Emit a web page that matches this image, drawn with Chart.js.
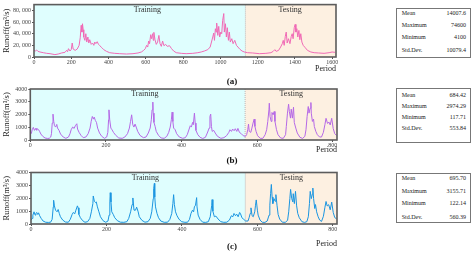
<!DOCTYPE html>
<html><head><meta charset="utf-8">
<script src="https://cdn.jsdelivr.net/npm/chart.js@4/dist/chart.umd.min.js"></script>
<style>
html,body{margin:0;padding:0;background:#fff;width:474px;height:255px;overflow:hidden;font-family:'Liberation Serif','Times New Roman',serif;}
canvas{position:absolute;left:0;}
.stat{position:absolute;left:396px;width:74.5px;border:1px solid #777;box-sizing:border-box;background:#fff;font-size:6px;color:#222;}
.row{position:absolute;left:4.7px;right:3.5px;height:8px;line-height:8px;display:flex;justify-content:space-between;white-space:nowrap;}
.lab{position:absolute;font-weight:bold;font-size:9px;color:#111;transform:translate(-50%,-50%);}
</style></head><body>
<canvas id="ca" width="350" height="75" style="top:0px"></canvas>
<canvas id="cb" width="350" height="75" style="top:80px"></canvas>
<canvas id="cc" width="350" height="90" style="top:165px"></canvas>
<div class="lab" style="left:232px;top:81px">(a)</div>
<div class="lab" style="left:232px;top:160px">(b)</div>
<div class="lab" style="left:232px;top:246px">(c)</div>
<div id="stats"></div>
<script>
// ---------- data ----------
const statLabels = ['Mean', 'Maximum', 'Minimum', 'Std.Dev.'];
const statsA = ['14007.6', '74600', '4100', '10079.4'];
const statsB = ['684.42', '2974.29', '117.71', '553.84'];
const statsC = ['695.70', '3155.71', '122.14', '560.39'];

const xTicksA = [0, 200, 400, 600, 800, 1000, 1200, 1400, 1600];
const yTicksA = [0, 20000, 40000, 60000, 80000];
const xTicksBC = [0, 200, 400, 600, 800];
const yTicksBC = [0, 1000, 2000, 3000, 4000];

const periodA = [
0,7,14,21,32,50,68,86,112,130,
148,166,175,180,185,193,200,205,210,221,
232,242,248,253,257,260,264,267,273,278,
283,289,294,299,307,314,321,326,332,339,
346,353,364,374,389,406,433,460,496,531,
558,576,588,597,604,610,615,620,626,631,
636,640,643,649,656,663,670,676,683,690,
697,706,715,727,738,749,763,790,816,852,
879,897,914,932,945,952,959,964,968,973,
977,980,986,991,996,1002,1007,1012,1018,1021,
1027,1032,1037,1043,1048,1053,1061,1068,1077,1086,
1094,1105,1116,1128,1146,1173,1209,1244,1271,1283,
1292,1299,1312,1323,1332,1337,1342,1348,1353,1358,
1365,1373,1380,1385,1390,1396,1401,1405,1410,1415,
1421,1426,1431,1437,1444,1455,1467,1485,1503,1526,
1556,1583,1599,1615];
const runoffA = [
11400,10300,12000,9700,8600,7400,6300,5700,4100,5100,
6900,8000,11400,9100,14300,10300,13100,24000,13700,11400,
13700,20000,33100,54300,42800,57100,46800,34300,28600,40000,
25700,34300,24000,29700,21700,24000,20000,25700,22900,26300,
21700,19400,16000,12600,9700,7400,6300,5700,5100,5700,
6900,8600,11400,14300,20000,17100,27400,22900,38300,31400,
40000,28600,42300,29700,21700,25700,37100,22900,18300,27400,
19400,21700,18300,19400,14300,10300,7400,6300,5700,6300,
7400,8600,10300,12600,17100,25700,34300,41100,28600,48600,
42800,58300,37100,52600,34300,42800,40000,62900,74600,42800,
57100,34300,50300,28600,42800,25700,31400,22900,28600,20000,
17100,13100,10300,8600,7400,6900,5700,6300,7400,9700,
12600,9700,11400,17100,22900,28600,20000,35400,42800,24000,
31400,22900,35400,40000,31400,50300,56000,42800,48600,34300,
45700,29700,40000,25700,20000,16000,11400,8600,7400,6900,
6300,7400,8600,8000];

const periodB = [
0,3,5,8,11,13,15,17,19,22,
25,28,33,39,45,50,54,56,58,60,
62,64,67,70,72,76,80,87,94,101,
105,108,112,116,119,123,125,129,134,140,
147,153,158,161,164,167,169,172,175,178,
183,189,196,202,205,207,208,210,213,216,
220,226,234,243,250,257,262,265,268,271,
274,277,280,284,290,299,306,312,317,320,
322,324,325,327,330,333,339,346,354,361,
366,370,373,375,377,379,383,387,394,403,
410,415,420,423,426,429,431,434,436,438,
443,449,456,463,468,473,475,477,479,481,
485,489,495,504,512,519,525,528,532,535,
539,542,546,549,553,558,563,569,572,575,
577,579,583,586,589,592,594,597,601,608,
615,621,625,628,631,632,634,637,639,642,
645,647,651,655,662,669,675,677,680,683,
685,688,690,693,696,698,702,706,713,720,
726,729,732,735,737,740,742,743,746,749,
751,755,759,765,770,775,779,782,786,790,
793,797,801,805,810];
const runoffB = [
416,546,806,988,754,858,936,754,884,806,
650,468,286,156,125,130,234,494,1326,2028,
1456,1118,1014,1222,936,754,468,234,130,234,
494,806,1014,910,1118,1274,858,598,364,182,
234,494,936,1456,1846,1638,1794,1534,1378,936,
546,286,130,234,598,1586,2366,1586,936,806,
598,364,156,130,234,494,936,1456,1976,1196,
1014,1248,1014,676,364,182,234,546,936,1586,
2366,2974,2106,1378,1066,676,364,156,130,286,
598,1014,1586,2184,1456,936,806,494,234,130,
182,416,858,1118,1014,1378,1196,2106,1326,754,
416,208,118,208,546,936,1846,2028,1066,676,
754,546,286,130,182,338,598,806,676,858,
728,884,676,910,598,494,338,286,416,806,
1248,676,598,936,1326,1638,1066,676,338,130,
130,416,806,1456,2366,2886,1846,1456,2158,1976,
2236,1456,806,416,156,130,416,1066,2106,2808,
2236,1716,2418,1716,2574,1378,936,546,208,125,
286,806,1846,2626,2106,2496,2938,2106,1456,1638,
1066,676,416,234,234,600,1200,1700,1300,1400,
1180,1700,900,500,350];

const periodC = [
0,3,5,8,11,13,15,18,20,23,
27,32,39,46,52,56,59,60,62,65,
69,72,75,78,84,91,99,104,109,112,
116,119,123,125,127,131,137,143,150,156,
160,164,165,168,171,173,176,180,184,191,
198,204,207,209,210,212,214,218,222,229,
237,246,254,259,264,268,270,273,277,280,
284,287,294,302,310,316,320,324,325,327,
328,330,334,338,344,353,362,368,373,376,
378,380,383,387,392,399,408,415,420,424,
428,431,433,436,439,440,443,448,455,463,
470,475,479,480,482,486,490,496,503,511,
519,526,531,535,538,542,545,549,553,555,
559,564,569,575,578,581,583,586,589,593,
595,597,600,602,607,613,620,626,631,633,
635,637,639,641,644,647,649,652,655,659,
666,674,680,683,686,688,691,694,695,698,
701,704,707,711,718,725,731,735,738,740,
743,746,747,749,752,754,757,761,765,770,
775,779,782,785,789,793,797,801,805,810];
const runoffC = [
307,435,691,947,691,819,896,742,870,640,
435,230,135,122,140,358,1331,1843,1408,1075,
947,1126,819,563,307,154,135,358,742,896,
794,1075,1408,1254,742,486,256,135,179,435,
947,1587,2176,1766,1664,1715,1331,947,563,256,
135,230,691,1715,2432,1715,947,742,486,256,
140,130,179,435,947,1510,2022,1075,1075,1306,
947,563,282,140,179,435,947,1971,2739,3156,
2099,1331,819,486,230,130,140,358,819,1587,
2278,1510,947,640,384,179,130,140,358,819,
1075,947,1331,1459,2048,1331,691,358,140,125,
179,563,1459,1894,998,563,614,384,179,130,
140,307,640,563,819,640,768,563,896,819,
486,358,230,230,486,819,1254,640,563,947,
1459,1869,1075,691,307,135,125,230,691,1459,
2355,3072,2099,1587,1971,1766,2278,1459,742,384,
140,130,282,947,1971,2688,1971,1715,2355,1587,
2534,1408,819,486,179,125,179,563,1587,2534,
1971,2355,2790,1971,1203,1510,947,563,307,200,
600,1300,1750,1400,1500,1100,1700,900,500,400];

const splitA = 1134, splitBC = 568;

// ---------- drawing ----------
const FONT = "'Liberation Serif','Times New Roman',serif";
function fmtThousands(v) {
  if (v === 0) return '0';
  return Math.floor(v / 1000) + ', ' + String(v % 1000).padStart(3, '0');
}

const panelPlugin = {
  id: 'panel',
  beforeDraw(chart, args, o) {
    const {ctx, chartArea: a, scales: {x}} = chart;
    const sx = x.getPixelForValue(o.split);
    ctx.save();
    ctx.fillStyle = '#DFFEFE';
    ctx.fillRect(a.left, a.top, sx - a.left, a.bottom - a.top);
    ctx.fillStyle = '#FDF0E1';
    ctx.fillRect(sx, a.top, a.right - sx, a.bottom - a.top);
    ctx.strokeStyle = '#b8b8b8'; ctx.lineWidth = 1; ctx.setLineDash([1, 1]);
    ctx.beginPath(); ctx.moveTo(sx, a.top); ctx.lineTo(sx, a.bottom); ctx.stroke();
    ctx.restore();
  },
  afterDraw(chart, args, o) {
    const {ctx, chartArea: a, scales: {x}} = chart;
    ctx.save();
    ctx.strokeStyle = '#5c5c5c'; ctx.lineWidth = 1.6;
    ctx.strokeRect(a.left, a.top, a.right - a.left, a.bottom - a.top);
    ctx.fillStyle = '#333'; ctx.font = '8px ' + FONT;
    ctx.textAlign = 'center'; ctx.textBaseline = 'middle';
    ctx.fillText('Training', x.getPixelForValue(o.trainAt), a.top + o.labelDy);
    ctx.fillText('Testing', x.getPixelForValue(o.testAt), a.top + o.labelDy);
    ctx.restore();
  }
};

function makeChart(id, xs, ys, c) {
  const gridOpt = {drawOnChartArea: false, drawTicks: true, tickLength: 2, color: '#555'};
  new Chart(document.getElementById(id), {
    type: 'line',
    data: {datasets: [{
      data: xs.map((v, i) => ({x: v, y: ys[i]})),
      borderColor: c.color, borderWidth: 1, pointRadius: 0, tension: 0, fill: false
    }]},
    options: {
      responsive: false, animation: false, devicePixelRatio: 1,
      layout: {padding: {top: c.padTop, right: c.padRight, left: 0, bottom: 0}},
      plugins: {
        legend: {display: false}, tooltip: {enabled: false},
        panel: {split: c.split, trainAt: c.trainAt, testAt: c.testAt, labelDy: c.labelDy}
      },
      scales: {
        x: {
          type: 'linear', min: 0, max: c.xMax,
          afterBuildTicks: s => { s.ticks = c.xTicks.map(v => ({value: v})); },
          afterFit: s => { s.height = c.xH; },
          ticks: {autoSkip: false, maxRotation: 0, padding: 0, color: '#444',
                  font: {family: FONT, size: 6}, callback: v => String(v)},
          grid: gridOpt, border: {display: false},
          title: {display: true, text: 'Period', align: 'end', color: '#222',
                  font: {family: FONT, size: 8}, padding: {top: 0, bottom: c.periodPad}}
        },
        y: {
          min: 0, max: c.yMax,
          afterBuildTicks: s => { s.ticks = c.yTicks.map(v => ({value: v})); },
          afterFit: s => { s.width = c.yW; },
          ticks: {padding: 1, color: '#444', font: {family: FONT, size: 6}, callback: c.yFmt},
          grid: gridOpt, border: {display: false},
          title: {display: true, text: 'Runoff(m³/s)', color: '#222',
                  font: {family: FONT, size: 8.5}, padding: {top: 2, bottom: 0}}
        }
      }
    },
    plugins: [panelPlugin]
  });
}

makeChart('ca', periodA, runoffA, {
  color: '#F06AB5', xMax: 1620, yMax: 90000, xTicks: xTicksA, yTicks: yTicksA,
  yFmt: v => fmtThousands(v), split: splitA, trainAt: 608, testAt: 1374, labelDy: 5.5,
  padTop: 4.5, padRight: 14, yW: 34, xH: 18, periodPad: 1.2
});
makeChart('cb', periodB, runoffB, {
  color: '#B569E6', xMax: 811, yMax: 4000, xTicks: xTicksBC, yTicks: yTicksBC,
  yFmt: v => String(v), split: splitBC, trainAt: 303, testAt: 690, labelDy: 5.3,
  padTop: 9, padRight: 13, yW: 30.3, xH: 15, periodPad: 0
});
makeChart('cc', periodC, runoffC, {
  color: '#1B95E0', xMax: 811, yMax: 4000, xTicks: xTicksBC, yTicks: yTicksBC,
  yFmt: v => String(v), split: splitBC, trainAt: 303, testAt: 690, labelDy: 5.2,
  padTop: 7.5, padRight: 13, yW: 31, xH: 31, periodPad: 6
});

// ---------- stats boxes ----------
const boxes = [
  {vals: statsA, top: 8, h: 50, rows: [4.7, 17, 29.3, 42]},
  {vals: statsB, top: 88, h: 55, rows: [6.7, 17.7, 28.7, 39.7]},
  {vals: statsC, top: 172.7, h: 50.6, rows: [5.6, 18, 30.3, 44]}
];
const host = document.getElementById('stats');
boxes.forEach(b => {
  const d = document.createElement('div');
  d.className = 'stat';
  d.style.top = b.top + 'px'; d.style.height = b.h + 'px';
  statLabels.forEach((lab, i) => {
    const r = document.createElement('div');
    r.className = 'row';
    r.style.top = (b.rows[i] - 5) + 'px';
    const l = document.createElement('span'); l.textContent = lab;
    const v = document.createElement('span'); v.textContent = b.vals[i];
    r.appendChild(l); r.appendChild(v);
    d.appendChild(r);
  });
  host.appendChild(d);
});
</script>
</body></html>
